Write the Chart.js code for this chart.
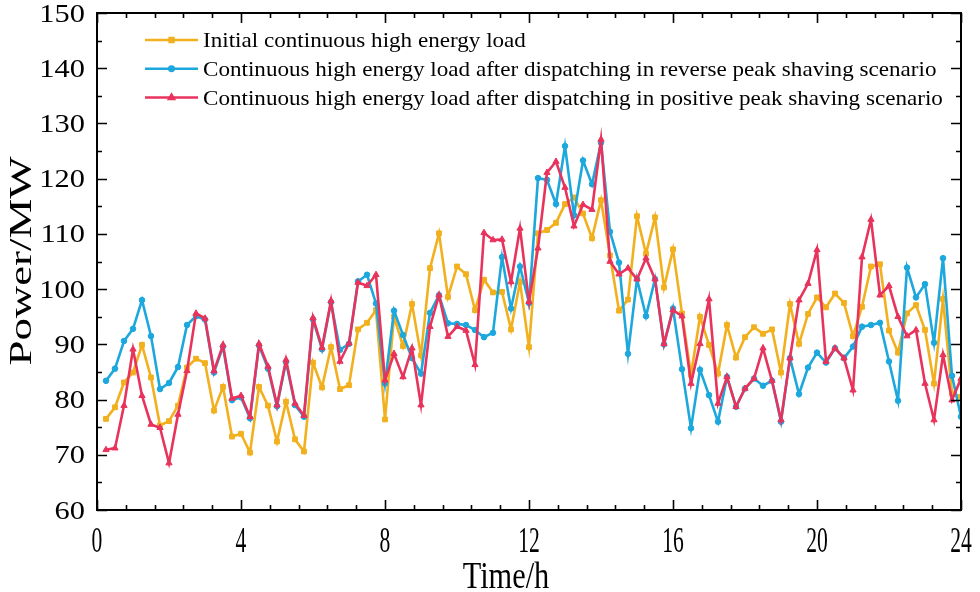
<!DOCTYPE html>
<html>
<head>
<meta charset="utf-8">
<script src="https://cdn.jsdelivr.net/npm/chart.js@4.4.1/dist/chart.umd.min.js"></script>
<style>
  html, body { margin: 0; padding: 0; background: #fff; }
  #wrap { width: 980px; height: 592px; position: relative; }
</style>
</head>
<body>
<div id="wrap"><canvas id="loadChart"></canvas></div>
<script>
// series names, same order as in the legend
const seriesNames = [
  "Initial continuous high energy load",
  "Continuous high energy load after dispatching in reverse peak shaving scenario",
  "Continuous high energy load after dispatching in positive peak shaving scenario",
];

// 15 min steps, 0.25 h .. 24 h
const initialLoad = [
  76.5, 78.6, 83.1, 84.9, 89.9, 84.0, 75.3, 76.1, 78.9, 85.8, 87.4, 86.6,
  78.0, 82.3, 73.3, 73.8, 70.4, 82.3, 78.9, 72.4, 79.6, 72.8, 70.6, 86.7,
  82.2, 89.5, 81.9, 82.6, 92.7, 93.9, 96.2, 76.4, 95.0, 89.7, 97.3, 88.0,
  103.8, 110.1, 98.6, 104.1, 102.7, 96.2, 101.7, 99.4, 99.5, 92.7, 101.3, 89.5,
  110.1, 110.7, 112.0, 115.4, 116.6, 113.7, 109.2, 116.1, 106.1, 96.1, 98.1, 113.2,
  106.4, 113.0, 100.3, 107.2, 95.6, 84.5, 95.0, 89.9, 84.7, 93.5, 87.6, 91.3,
  93.1, 91.9, 92.7, 84.9, 97.3, 90.1, 95.5, 98.5, 96.7, 99.2, 97.5, 91.5,
  96.8, 104.1, 104.5, 92.5, 88.5, 95.6, 97.1, 92.6, 82.9, 98.2, 81.1, 80.5,
];

const reverseLoad = [
  83.4, 85.6, 90.6, 92.8, 98.0, 91.5, 81.9, 83.0, 85.9, 93.5, 95.1, 94.5,
  84.9, 89.6, 79.9, 80.4, 76.6, 89.8, 85.6, 78.8, 86.8, 79.0, 76.9, 94.5,
  89.1, 97.6, 89.0, 90.1, 101.4, 102.6, 97.4, 82.9, 96.1, 91.7, 87.5, 84.7,
  95.7, 98.9, 93.8, 93.7, 93.5, 92.6, 91.3, 92.1, 105.8, 96.5, 104.1, 97.5,
  120.1, 119.8, 115.4, 125.9, 113.4, 123.3, 119.0, 126.5, 110.4, 104.8, 88.3, 101.8,
  95.1, 101.8, 90.0, 96.5, 85.5, 74.8, 85.4, 80.8, 76.0, 84.1, 78.7, 82.0,
  83.8, 82.5, 83.4, 76.0, 87.5, 81.0, 85.8, 88.5, 86.7, 89.3, 87.5, 89.6,
  93.2, 93.5, 93.9, 86.9, 79.8, 103.9, 98.5, 100.9, 90.3, 105.6, 84.3, 76.9,
];

const positiveLoad = [
  70.9, 71.2, 78.9, 89.1, 80.7, 75.5, 74.9, 68.5, 77.3, 85.2, 95.6, 94.7,
  85.2, 89.9, 80.2, 80.7, 76.9, 90.1, 86.0, 79.0, 87.2, 79.3, 77.1, 94.8,
  89.4, 97.9, 86.9, 90.2, 101.2, 100.6, 102.6, 83.5, 88.3, 84.1, 89.3, 79.0,
  93.2, 98.9, 91.4, 93.2, 92.5, 86.3, 110.2, 108.9, 109.0, 101.3, 111.0, 97.7,
  107.4, 121.1, 123.1, 118.4, 111.4, 115.3, 114.4, 127.1, 105.0, 102.7, 103.8, 101.8,
  105.6, 101.8, 90.1, 96.2, 95.1, 82.9, 90.1, 98.2, 79.3, 84.1, 78.7, 82.0,
  83.8, 89.3, 83.4, 76.3, 87.5, 98.0, 101.0, 107.1, 86.9, 89.3, 87.5, 81.7,
  105.8, 112.6, 98.9, 100.6, 95.0, 91.5, 92.6, 82.9, 76.3, 88.1, 79.9, 83.8,
];

const xTickLabels = [0, 4, 8, 12, 16, 20, 24];
const yTickLabels = [60, 70, 80, 90, 100, 110, 120, 130, 140, 150];

const timeHours = initialLoad.map((_, i) => (i + 1) * 0.25);

const colors = ["#F2B01E", "#1CA7DD", "#E8335C"];
const pointStyles = ["rect", "circle", "triangle"];
const pointSizes = [3.4, 2.8, 3.6];

const FONT = "'Liberation Serif', 'Times New Roman', serif";

function toPoints(values) {
  return values.map((v, i) => ({ x: timeHours[i], y: v }));
}

// text squeezed / stretched like in the original figure
function drawText(ctx, text, x, y, size, sx, align, baseline, angle) {
  ctx.save();
  ctx.translate(x, y);
  if (angle) ctx.rotate(angle);
  ctx.scale(sx, 1);
  ctx.font = size + "px " + FONT;
  ctx.fillStyle = "#000";
  ctx.textAlign = align;
  ctx.textBaseline = baseline;
  ctx.fillText(text, 0, 0);
  ctx.restore();
}

// frame on all four sides with inward major/minor ticks, plus labels
const frameTicks = {
  id: "frameTicks",
  afterDraw(chart) {
    const { ctx, chartArea: a, scales } = chart;
    const xs = scales.x, ys = scales.y;
    ctx.save();
    ctx.strokeStyle = "#000";
    ctx.lineWidth = 2;
    ctx.strokeRect(a.left, a.top, a.right - a.left, a.bottom - a.top);
    ctx.lineWidth = 1.6;
    ctx.beginPath();
    for (let v = 0; v <= 24.001; v += 0.8) {
      const px = Math.round(xs.getPixelForValue(v)) + 0.5;
      const major = Math.abs(v / 4 - Math.round(v / 4)) < 1e-6;
      const len = major ? 10 : 5;
      ctx.moveTo(px, a.bottom); ctx.lineTo(px, a.bottom - len);
      ctx.moveTo(px, a.top); ctx.lineTo(px, a.top + len);
    }
    for (let v = 60; v <= 150; v += 5) {
      const py = Math.round(ys.getPixelForValue(v)) + 0.5;
      const len = v % 10 === 0 ? 10 : 5;
      ctx.moveTo(a.left, py); ctx.lineTo(a.left + len, py);
      ctx.moveTo(a.right, py); ctx.lineTo(a.right - len, py);
    }
    ctx.stroke();
    ctx.restore();

    xTickLabels.forEach((v) => {
      drawText(ctx, String(v), xs.getPixelForValue(v), a.bottom + 42, 36, 0.6, "center", "alphabetic");
    });
    yTickLabels.forEach((v) => {
      drawText(ctx, String(v), a.left - 12, ys.getPixelForValue(v) + 8.5, 26, 1.17, "right", "alphabetic");
    });
    drawText(ctx, "Time/h", 506, 588, 37, 0.82, "center", "alphabetic");
    drawText(ctx, "Power/MW", 31, 261, 32, 1.4, "center", "alphabetic", -Math.PI / 2);
  },
};

// legend inside the plot, line + marker like the original figure
const lineLegend = {
  id: "lineLegend",
  afterDraw(chart) {
    const ctx = chart.ctx;
    ctx.save();
    seriesNames.forEach((name, i) => {
      const y = 40 + i * 28.8;
      ctx.strokeStyle = colors[i];
      ctx.fillStyle = colors[i];
      ctx.lineWidth = 2.5;
      ctx.beginPath();
      ctx.moveTo(145, y);
      ctx.lineTo(198, y);
      ctx.stroke();
      Chart.helpers.drawPoint(ctx, {
        pointStyle: pointStyles[i], radius: pointSizes[i] * 0.8, rotation: 0, borderWidth: 1,
      }, 171.5, y);
      drawText(ctx, name, 203, y + 7, 22, 1.05, "left", "alphabetic");
    });
    ctx.restore();
  },
};

const seriesData = [initialLoad, reverseLoad, positiveLoad];

const datasets = seriesData.map((values, i) => ({
  label: seriesNames[i],
  data: toPoints(values),
  borderColor: colors[i],
  backgroundColor: colors[i],
  borderWidth: 2.6,
  pointStyle: pointStyles[i],
  pointRadius: pointSizes[i],
  pointBorderWidth: 1,
  tension: 0,
  order: 2 - i, // red on top, yellow at the bottom
}));

new Chart(document.getElementById("loadChart"), {
  type: "line",
  data: { datasets },
  options: {
    responsive: true,
    maintainAspectRatio: false,
    animation: false,
    layout: { padding: { top: 13, right: 19, left: 0, bottom: 0 } },
    plugins: {
      legend: { display: false },
      tooltip: { enabled: false },
    },
    scales: {
      x: {
        type: "linear",
        min: 0,
        max: 24,
        afterFit: (s) => { s.height = 82; },
        ticks: { stepSize: 4, display: false },
        grid: { display: false },
        border: { display: false },
      },
      y: {
        min: 60,
        max: 150,
        afterFit: (s) => { s.width = 97; },
        ticks: { stepSize: 10, display: false },
        grid: { display: false },
        border: { display: false },
      },
    },
  },
  plugins: [frameTicks, lineLegend],
});
</script>
</body>
</html>
